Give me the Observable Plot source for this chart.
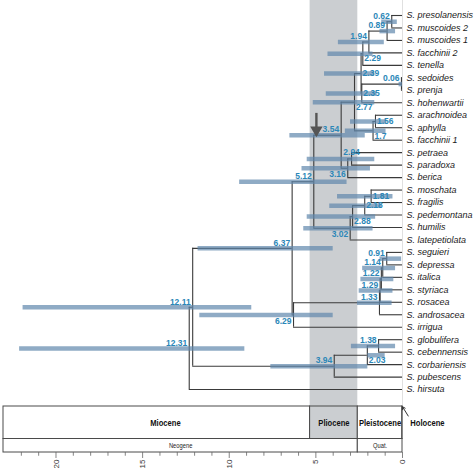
<!DOCTYPE html>
<html>
<head>
<meta charset="utf-8">
<script src="https://cdn.jsdelivr.net/npm/d3@7"></script>
<script src="https://cdn.jsdelivr.net/npm/@observablehq/plot@0.6"></script>
<style>
  html, body { margin: 0; padding: 0; background: #fff; }
  #chart svg { display: block; }
</style>
</head>
<body>
<div id="chart"></div>
<script>
// ---- DATA ----
const tipNames = [
  "S. presolanensis", "S. muscoides 2", "S. muscoides 1", "S. facchinii 2", "S. tenella",
  "S. sedoides", "S. prenja", "S. hohenwartii", "S. arachnoidea", "S. aphylla",
  "S. facchinii 1", "S. petraea", "S. paradoxa", "S. berica", "S. moschata",
  "S. fragilis", "S. pedemontana", "S. humilis", "S. latepetiolata", "S. seguieri",
  "S. depressa", "S. italica", "S. styriaca", "S. rosacea", "S. androsacea",
  "S. irrigua", "S. globulifera", "S. cebennensis", "S. corbariensis", "S. pubescens",
  "S. hirsuta"
];
// internal nodes: [age label, child A, child B]
const nodeList = [
  ["0.62", "S. presolanensis", "S. muscoides 2"],
  ["0.89", "0.62", "S. muscoides 1"],
  ["1.94", "0.89", "S. facchinii 2"],
  ["2.29", "1.94", "S. tenella"],
  ["0.06", "S. sedoides", "S. prenja"],
  ["2.35", "0.06", "S. hohenwartii"],
  ["2.39", "2.29", "2.35"],
  ["1.56", "S. arachnoidea", "S. aphylla"],
  ["1.7", "1.56", "S. facchinii 1"],
  ["2.77", "2.39", "1.7"],
  ["2.94", "S. petraea", "S. paradoxa"],
  ["3.16", "2.94", "S. berica"],
  ["3.54", "2.77", "3.16"],
  ["1.81", "S. moschata", "S. fragilis"],
  ["2.18", "1.81", "S. pedemontana"],
  ["2.88", "2.18", "S. humilis"],
  ["3.02", "2.88", "S. latepetiolata"],
  ["5.12", "3.54", "3.02"],
  ["0.91", "S. seguieri", "S. depressa"],
  ["1.14", "0.91", "S. italica"],
  ["1.22", "1.14", "S. styriaca"],
  ["1.29", "1.22", "S. rosacea"],
  ["1.33", "1.29", "S. androsacea"],
  ["6.29", "1.33", "S. irrigua"],
  ["6.37", "5.12", "6.29"],
  ["1.38", "S. globulifera", "S. cebennensis"],
  ["2.03", "1.38", "S. corbariensis"],
  ["3.94", "2.03", "S. pubescens"],
  ["12.11", "6.37", "3.94"],
  ["12.31", "12.11", "S. hirsuta"]
];
// 95% HPD intervals (Ma), same order as nodeList
const hpdLow  = [0.30, 0.40, 1.05, 1.70, 0.00, 1.50, 1.60, 0.90, 0.95, 1.60,
                 1.60, 1.85, 2.15, 0.55, 1.20, 1.55, 1.70, 3.20, 0.05, 0.40,
                 0.50, 0.55, 0.60, 4.00, 4.00, 0.40, 1.00, 2.00, 8.70, 9.10];
const hpdHigh = [1.20, 1.30, 3.70, 4.30, 0.20, 4.40, 4.50, 3.00, 3.30, 5.15,
                 5.50, 5.80, 6.50, 3.75, 4.20, 5.50, 5.70, 9.40, 1.30, 2.30,
                 2.40, 2.50, 2.60, 11.70, 11.80, 2.95, 2.00, 7.60, 21.90, 22.10];
// geological time scale (Ma)
const epochNames = ["Miocene", "Pliocene", "Pleistocene", "Holocene"];
const epochStart = [23.03, 5.333, 2.58, 0.0117];
const epochEnd   = [5.333, 2.58, 0.0117, 0];
const periodNames = ["Neogene", "Quat."];
const periodStart = [23.03, 2.58];
const periodEnd   = [2.58, 0];
const tickMinor = d3.range(0, 23, 1);
const tickMajor = [0, 5, 10, 15, 20];
const arrowNode = "3.54"; const arrowAge = 4.97;

// ---- LAYOUT / STYLE (not data) ----
const W = 474, H = 468;
const Y0 = -0.203, Y1 = 37.33;                 // row-domain of the whole picture
const px2row = p => Y0 + p * (Y1 - Y0) / H;
const tier1a = px2row(406), tier1b = px2row(438.5), tier2b = px2row(452);
const labelPlace = {
  "0.62":"al","0.89":"al","1.94":"al","2.29":"br","0.06":"al","2.35":"r","2.39":"r",
  "1.56":"r","1.7":"br","2.77":"br","2.94":"a","3.16":"bl","3.54":"al","1.81":"r",
  "2.18":"r","2.88":"br","3.02":"bl","5.12":"al","0.91":"al","1.14":"al","1.22":"al",
  "1.29":"al","1.33":"al","6.29":"bl","6.37":"al","1.38":"al","2.03":"br","3.94":"al",
  "12.11":"al","12.31":"al"
};
const blue = "#2b87b8";
const lineCol = "#3a3a3a";
const plioFill = "#cbced1";

// ---- derived tables ----
const rowOf = new Map(tipNames.map((t, i) => [t, i + 1]));
const ageOf = new Map(tipNames.map(t => [t, 0]));
const nodes = nodeList.map(([lab, a, b], i) => {
  ageOf.set(lab, +lab);
  rowOf.set(lab, (rowOf.get(a) + rowOf.get(b)) / 2);
  return {label: lab, age: +lab, row: rowOf.get(lab), a, b, lo: hpdLow[i], hi: hpdHigh[i], place: labelPlace[lab]};
});
const verts = nodes.map(n => ({x: n.age, y1: rowOf.get(n.a), y2: rowOf.get(n.b)}));
const horiz = nodes.flatMap(n => [n.a, n.b].map(c => ({y: rowOf.get(c), x1: n.age, x2: ageOf.get(c)})));
const tips = tipNames.map((t, i) => ({name: t, row: i + 1}));
const epochs = epochNames.map((name, i) => ({name, start: epochStart[i], end: epochEnd[i]}));
const periods = periodNames.map((name, i) => ({name, start: periodStart[i], end: periodEnd[i]}));
const an = nodes.find(n => n.label === arrowNode);

const nodeText = (place, opts) => Plot.text(nodes.filter(n => n.place === place), {
  x: "age", y: "row", text: "label", fill: blue, fontWeight: "bold", fontSize: 8.5, ...opts
});

const chart = Plot.plot({
  width: W, height: H,
  marginTop: 0, marginBottom: 0, marginLeft: 0, marginRight: 0,
  x: {domain: [23.03, 0], range: [3, 402], axis: null},
  y: {domain: [Y0, Y1], range: [0, H], axis: null},
  style: {fontFamily: "'Liberation Sans', Arial, sans-serif", background: "#fff"},
  marks: [
    // Pliocene band
    Plot.rect(epochs.filter(d => d.name === "Pliocene"), {
      x1: "start", x2: "end", y1: () => Y0, y2: () => tier1b, fill: plioFill
    }),
    // present-day guide
    Plot.ruleX([0], {y1: () => Y0, y2: () => tier1a, stroke: "#e0e0e0", strokeWidth: 1}),
    // branches
    Plot.ruleY(horiz, {y: "y", x1: "x1", x2: "x2", stroke: lineCol, strokeWidth: 1.1}),
    Plot.ruleX(verts, {x: "x", y1: "y1", y2: "y2", stroke: lineCol, strokeWidth: 1.1}),
    // HPD bars
    Plot.ruleY(nodes, {y: "row", x1: "lo", x2: "hi", stroke: "#5f88ad", strokeOpacity: 0.7, strokeWidth: 4.5}),
    // node ages
    nodeText("al", {textAnchor: "end", dx: -2, dy: -5.5}),
    nodeText("bl", {textAnchor: "end", dx: -2, dy: 6}),
    nodeText("br", {textAnchor: "start", dx: 1.5, dy: 5}),
    nodeText("r",  {textAnchor: "start", dx: 1.5, dy: 0}),
    nodeText("a",  {textAnchor: "middle", dx: 0, dy: -7}),
    // tip labels
    Plot.text(tips, {x: () => 0, y: "row", text: "name", textAnchor: "start", dx: 4,
      fontStyle: "italic", fontSize: 9, fill: "#1a1a1a"}),
    // annotation arrow
    Plot.ruleX([an], {x: () => arrowAge, y1: d => d.row - 1.75, y2: d => d.row - 0.55, stroke: "#555", strokeWidth: 2.4}),
    Plot.dot([an], {x: () => arrowAge, y: d => d.row - 0.42, symbol: "triangle", rotate: 180, r: 4.6, fill: "#555", stroke: "none"}),
    // time scale: epochs
    Plot.rect(epochs, {x1: "start", x2: "end", y1: () => tier1a, y2: () => tier1b,
      fill: d => d.name === "Pliocene" ? plioFill : "#fff", stroke: "#4a4a4a", strokeWidth: 1}),
    Plot.text(epochs.filter(d => d.name !== "Holocene"), {x: d => (d.start + d.end) / 2 - (d.name === "Miocene" ? 0.5 : 0), y: () => (tier1a + tier1b) / 2,
      text: "name", fontWeight: "bold", fontSize: 9.5, fill: "#111"}),
    // time scale: periods
    Plot.rect(periods, {x1: "start", x2: "end", y1: () => tier1b, y2: () => tier2b,
      fill: "#fff", stroke: "#4a4a4a", strokeWidth: 1}),
    Plot.text(periods, {x: d => (d.start + d.end) / 2, y: () => (tier1b + tier2b) / 2,
      text: "name", fontSize: 7.2, fill: "#222"}),
    // Holocene pointer
    Plot.arrow(epochs.filter(d => d.name === "Holocene"), {
      x1: () => -0.33, y1: () => px2row(415.5), x2: "end", y2: () => tier1a + 0.02,
      stroke: "#333", strokeWidth: 1, headLength: 4.5
    }),
    Plot.text(epochs.filter(d => d.name === "Holocene"), {x: () => -0.45, y: () => px2row(422),
      text: "name", textAnchor: "start", fontWeight: "bold", fontSize: 9.5, fill: "#111"}),
    // ticks
    Plot.ruleX(tickMinor, {x: d => d, y1: () => tier2b, y2: d => tier2b + (d % 5 === 0 ? 0.48 : 0.3),
      stroke: "#666", strokeWidth: 0.8}),
    Plot.text(tickMajor, {x: d => d, y: () => px2row(459), text: d => String(d), rotate: -90,
      textAnchor: "end", fontSize: 8, fill: "#333"})
  ]
});
document.getElementById("chart").appendChild(chart);
// condense the time-scale labels (the reference uses a narrow face)
const narrowNames = new Set([...epochNames, ...periodNames]);
d3.select(chart).selectAll("text").filter(function() {
  return narrowNames.has(this.textContent.trim());
}).each(function() {
  const len = this.getComputedTextLength();
  if (len > 0) {
    this.setAttribute("textLength", (len * 0.8).toFixed(1));
    this.setAttribute("lengthAdjust", "spacingAndGlyphs");
  }
});
</script>
</body>
</html>
